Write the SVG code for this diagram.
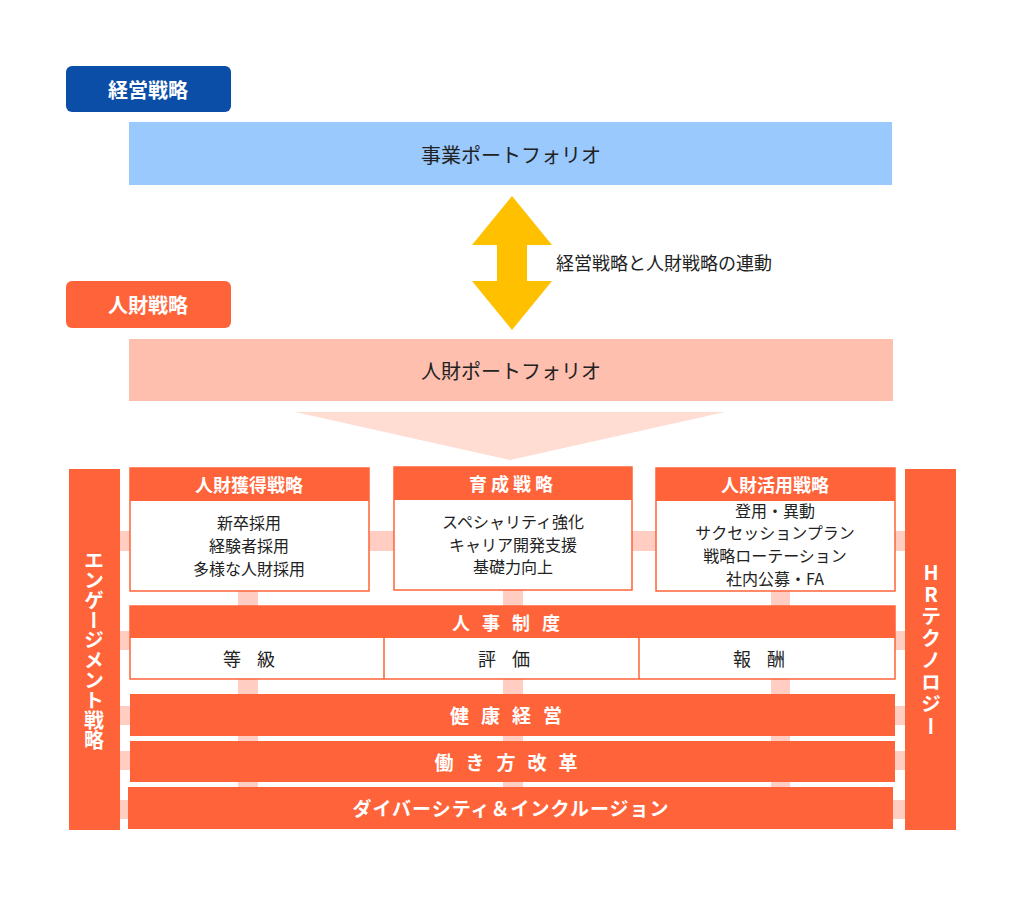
<svg xmlns="http://www.w3.org/2000/svg" width="1023" height="902" viewBox="0 0 1023 902">
<style>
text{font-family:"Noto Sans CJK JP","Liberation Sans",sans-serif;text-anchor:middle;dominant-baseline:central}
.w{fill:#fff;font-weight:bold}
.k{fill:#222}
.o{fill:#FF6339}
.box{fill:#fff;stroke:#FF6339;stroke-width:1.5}
.c{fill:#FFCDC2}
</style>
<rect width="1023" height="902" fill="#fff"/>
<g id="connectors">
<rect class="c" x="118" y="531" width="790" height="20"/>
<rect class="c" x="118" y="631" width="790" height="19"/>
<rect class="c" x="118" y="706" width="790" height="19"/>
<rect class="c" x="118" y="751" width="790" height="19"/>
<rect class="c" x="118" y="800" width="790" height="19"/>
<rect class="c" x="238" y="590" width="20" height="200"/>
<rect class="c" x="503" y="590" width="20" height="200"/>
<rect class="c" x="771" y="590" width="19" height="200"/>
<polygon points="472,245 512,196 552,245 527,245 527,281 552,281 512,330 472,281 497,281 497,245" fill="#FFC000"/>
<polygon points="295,412 725,412 510,460" fill="#FFDDD3"/>
</g>
<g id="label-keiei"><rect x="66" y="66" width="165" height="46" rx="6" fill="#0B4EA8"/><text class="w" x="148" y="89" font-size="20">経営戦略</text></g>
<g id="jigyo"><rect x="129" y="122" width="763" height="63" fill="#99C9FD"/><text class="k" x="511" y="154" font-size="20">事業ポートフォリオ</text></g>
<g id="rendo"><text class="k" x="556" y="262" font-size="18" style="text-anchor:start">経営戦略と人財戦略の連動</text></g>
<g id="label-jinzai"><rect x="66" y="281" width="165" height="47" rx="6" fill="#FF6339"/><text class="w" x="148" y="304" font-size="20">人財戦略</text></g>
<g id="jinzai-pf"><rect x="129" y="339" width="764" height="62" fill="#FFBFAE"/><text class="k" x="511" y="370" font-size="20">人財ポートフォリオ</text></g>
<g id="engagement"><rect class="o" x="69" y="469" width="51" height="361"/><text class="w" font-size="20" x="94" y="650" style="writing-mode:vertical-rl;glyph-orientation-vertical:0">エンゲージメント戦略</text></g>
<g id="hrtech"><rect class="o" x="905" y="469" width="51" height="361"/><text class="w" font-size="20" x="931" y="650" style="writing-mode:vertical-rl;text-orientation:upright;letter-spacing:2px">HRテクノロジー</text></g>
<g id="kakutoku"><rect class="box" x="130" y="468" width="239" height="123"/><rect class="o" x="130" y="468" width="239" height="33"/><text class="w" x="249" y="484" font-size="18">人財獲得戦略</text>
<text class="k" font-size="16" x="249" y="522">新卒採用</text><text class="k" font-size="16" x="249" y="545">経験者採用</text><text class="k" font-size="16" x="249" y="568">多様な人財採用</text></g>
<g id="ikusei"><rect class="box" x="394" y="467" width="238" height="123"/><rect class="o" x="394" y="467" width="238" height="33"/><text class="w" x="513" y="483" font-size="18" letter-spacing="4">育成戦略</text>
<text class="k" font-size="16" x="513" y="521">スペシャリティ強化</text><text class="k" font-size="16" x="513" y="544">キャリア開発支援</text><text class="k" font-size="16" x="513" y="566">基礎力向上</text></g>
<g id="katsuyo"><rect class="box" x="656" y="468" width="239" height="123"/><rect class="o" x="656" y="468" width="239" height="33"/><text class="w" x="775" y="484" font-size="18">人財活用戦略</text>
<text class="k" font-size="16" x="775" y="510">登用・異動</text><text class="k" font-size="16" x="775" y="532">サクセッションプラン</text><text class="k" font-size="16" x="775" y="555">戦略ローテーション</text><text class="k" font-size="16" x="775" y="578">社内公募・FA</text></g>
<g id="jinji"><rect class="box" x="130" y="606" width="765" height="73"/><rect class="o" x="130" y="606" width="765" height="32"/><text class="w" x="512" y="622" font-size="18" letter-spacing="12">人事制度</text>
<line x1="384" y1="638" x2="384" y2="679" stroke="#FF6339" stroke-width="1.5"/><line x1="639" y1="638" x2="639" y2="679" stroke="#FF6339" stroke-width="1.5"/>
<text class="k" font-size="18" x="257" y="658" letter-spacing="16">等級</text><text class="k" font-size="18" x="512" y="658" letter-spacing="16">評価</text><text class="k" font-size="18" x="767" y="658" letter-spacing="16">報酬</text></g>
<g id="kenko"><rect class="o" x="130" y="694" width="765" height="42"/><text class="w" x="512" y="714" font-size="19" letter-spacing="12">健康経営</text></g>
<g id="hataraki"><rect class="o" x="130" y="741" width="765" height="41"/><text class="w" x="512" y="761" font-size="19" letter-spacing="12">働き方改革</text></g>
<g id="diversity"><rect class="o" x="128" y="787" width="765" height="42"/><text class="w" x="511" y="807" font-size="19" letter-spacing="1">ダイバーシティ＆インクルージョン</text></g>
</svg>
